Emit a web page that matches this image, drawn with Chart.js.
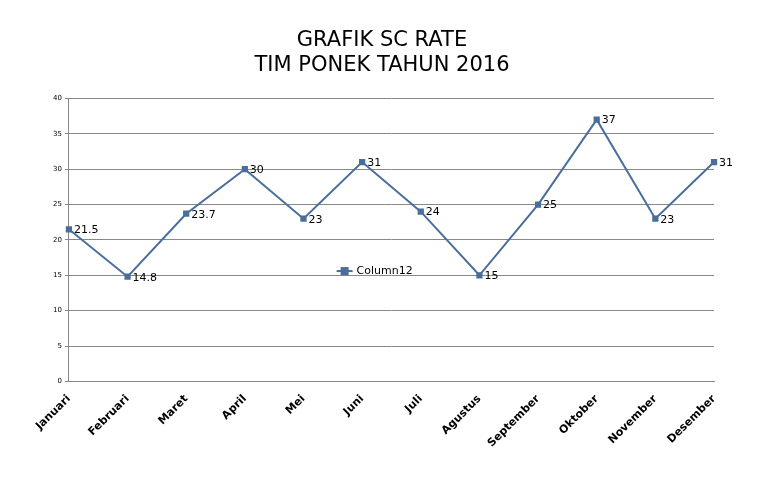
<!DOCTYPE html>
<html>
<head>
<meta charset="utf-8">
<script src="https://cdn.jsdelivr.net/npm/chart.js@4.4.0/dist/chart.umd.min.js"></script>
<style>
  html, body { margin: 0; padding: 0; background: #fff; }
  #wrap { width: 768px; height: 503px; }
</style>
</head>
<body>
<div id="wrap"><canvas id="grafik"></canvas></div>
<script>
const bulan = ["Januari", "Februari", "Maret", "April", "Mei", "Juni", "Juli", "Agustus", "September", "Oktober", "November", "Desember"];
const scRate = [21.5, 14.8, 23.7, 30, 23, 31, 24, 15, 25, 37, 23, 31];
const namaSeri = "Column12";
const WARNA = "#4a6e9c";

// label angka di kanan tiap titik
const labelTitik = {
  id: "labelTitik",
  afterDatasetsDraw(chart) {
    const ctx = chart.ctx;
    const meta = chart.getDatasetMeta(0);
    ctx.save();
    ctx.font = "11px 'DejaVu Sans'";
    ctx.fillStyle = "#000";
    ctx.textBaseline = "middle";
    meta.data.forEach((p, i) => {
      ctx.fillText(String(scRate[i]), p.x + 5, p.y + 1);
    });
    ctx.restore();
  }
};

// legenda di tengah area grafik
const legendaTengah = {
  id: "legendaTengah",
  afterDraw(chart) {
    const a = chart.chartArea;
    const ctx = chart.ctx;
    const x = a.left + (a.right - a.left) * 0.415;
    const y = a.top + (a.bottom - a.top) * 0.61;
    ctx.save();
    ctx.strokeStyle = WARNA;
    ctx.lineWidth = 2;
    ctx.beginPath();
    ctx.moveTo(x, y);
    ctx.lineTo(x + 16, y);
    ctx.stroke();
    ctx.fillStyle = WARNA;
    ctx.fillRect(x + 4, y - 4, 8, 8);
    ctx.fillStyle = "#000";
    ctx.font = "11px 'DejaVu Sans'";
    ctx.textBaseline = "middle";
    ctx.fillText(namaSeri, x + 20, y);
    ctx.restore();
  }
};

new Chart(document.querySelector("#grafik"), {
  type: "line",
  data: {
    labels: bulan,
    datasets: [
      {
        label: namaSeri,
        data: scRate,
        borderColor: WARNA,
        backgroundColor: WARNA,
        borderWidth: 2,
        pointStyle: "rect",
        pointRadius: 3,
        tension: 0,
      },
    ],
  },
  options: {
    responsive: true,
    maintainAspectRatio: false,
    animation: false,
    layout: { padding: { left: 50, right: 54, top: 0, bottom: 50 } },
    plugins: {
      legend: { display: false },
      tooltip: { enabled: false },
      title: {
        display: true,
        text: ["GRAFIK SC RATE", "TIM PONEK TAHUN 2016"],
        color: "#000",
        font: { family: "DejaVu Sans", size: 21, weight: "normal", lineHeight: 1.2 },
        padding: { top: 28, bottom: 20 },
      },
    },
    scales: {
      x: {
        offset: false,
        grid: { display: false, drawTicks: true },
        border: { color: "#888" },
        ticks: {
          color: "#000",
          maxRotation: 45,
          minRotation: 45,
          autoSkip: false,
          font: { family: "DejaVu Sans", size: 11, weight: "bold" },
        },
      },
      y: {
        min: 0,
        max: 40,
        grid: { color: "#888", drawTicks: true, tickLength: 4 },
        border: { color: "#888" },
        ticks: {
          stepSize: 5,
          color: "#000",
          font: { family: "DejaVu Sans", size: 7 },
        },
      },
    },
  },
  plugins: [labelTitik, legendaTengah],
});
</script>
</body>
</html>
